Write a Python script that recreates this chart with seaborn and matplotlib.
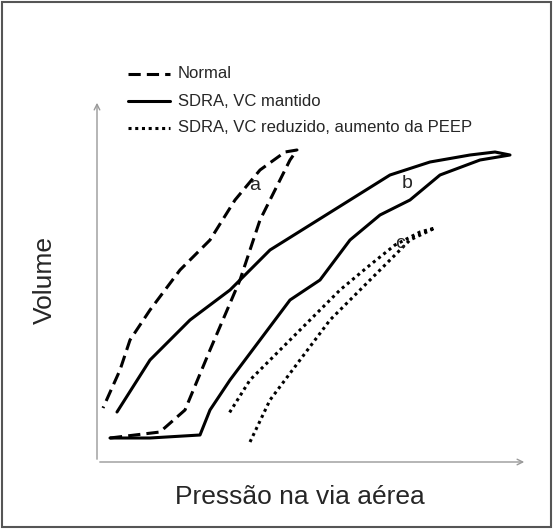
import matplotlib
matplotlib.use("Agg")
import matplotlib.pyplot as plt
import seaborn as sns
import pandas as pd
from matplotlib.patches import Rectangle

sns.set_style("white")
plt.rcParams['font.family'] = ['Liberation Sans', 'DejaVu Sans']

# data in pressure / volume units (pixel-like scale of the schematic)
normal_x = [110,160,185,210,240,260,280,290,297,285,260,235,210,180,150,130,120,103]
normal_y = [438,432,410,350,280,220,180,160,150,152,170,200,240,270,310,340,370,408]
sdra_x = [117,150,190,230,270,310,350,390,430,470,495,510,480,440,410,380,350,320,290,260,230,210,200,150,110]
sdra_y = [412,360,320,290,250,225,200,175,162,155,152,155,160,175,200,215,240,280,300,340,380,410,435,438,438]
red_x = [250,270,300,330,360,390,410,435,420,395,370,340,310,280,250,228]
red_y = [442,400,360,320,290,260,240,228,232,245,265,290,320,350,380,415]
labels = ["Normal", "SDRA, VC mantido", "SDRA, VC reduzido, aumento da PEEP"]

fig = plt.figure(figsize=(5.53, 5.29), dpi=100)
fig.patches.append(Rectangle((0.003, 0.003), 0.994, 0.994, transform=fig.transFigure,
                             fill=False, edgecolor="#555555", lw=1.5))
ax = fig.add_axes([97/553, (529-462)/529, 430/553, 362/529])
ax.set_xlim(97, 527)
ax.set_ylim(462, 100)
ax.axis("off")

for xs, ys, ls, lw in [(normal_x, normal_y, (0, (4, 2)), 2.2),
                       (sdra_x, sdra_y, "-", 2.2),
                       (red_x, red_y, (0, (1, 1.2)), 2.2)]:
    df = pd.DataFrame({"x": xs, "y": ys})
    sns.lineplot(data=df, x="x", y="y", sort=False, color="black", lw=lw,
                 linestyle=ls, ax=ax, estimator=None)

ax.annotate("", xy=(527, 462), xytext=(97, 462),
            arrowprops=dict(arrowstyle="->", color="#999999", lw=1))
ax.annotate("", xy=(97, 100), xytext=(97, 462),
            arrowprops=dict(arrowstyle="->", color="#999999", lw=1))
ax.set_xlabel(""); ax.set_ylabel("")

for t, (x, y) in zip(["a", "b", "c"], [(255, 185), (407, 183), (400, 244)]):
    ax.text(x, y, t, fontsize=14, ha="center", va="center")

# legend
for i, (lab, ls) in enumerate(zip(labels, [(0, (4, 2)), "-", (0, (1, 1.2))])):
    yy = 1 - (74 + 27 * i) / 529
    fig.add_artist(plt.Line2D([128/553, 170/553], [yy, yy], color="black", lw=2.2,
                              linestyle=ls, transform=fig.transFigure))
    fig.text(178/553, yy, lab, fontsize=12, va="center")

fig.text(300/553, 1 - 497/529, "Pressão na via aérea", fontsize=19, ha="center", va="center")
fig.text(45/553, 1 - 280/529, "Volume", fontsize=19, ha="center", va="center", rotation=90)

fig.savefig("out.png", dpi=100)
